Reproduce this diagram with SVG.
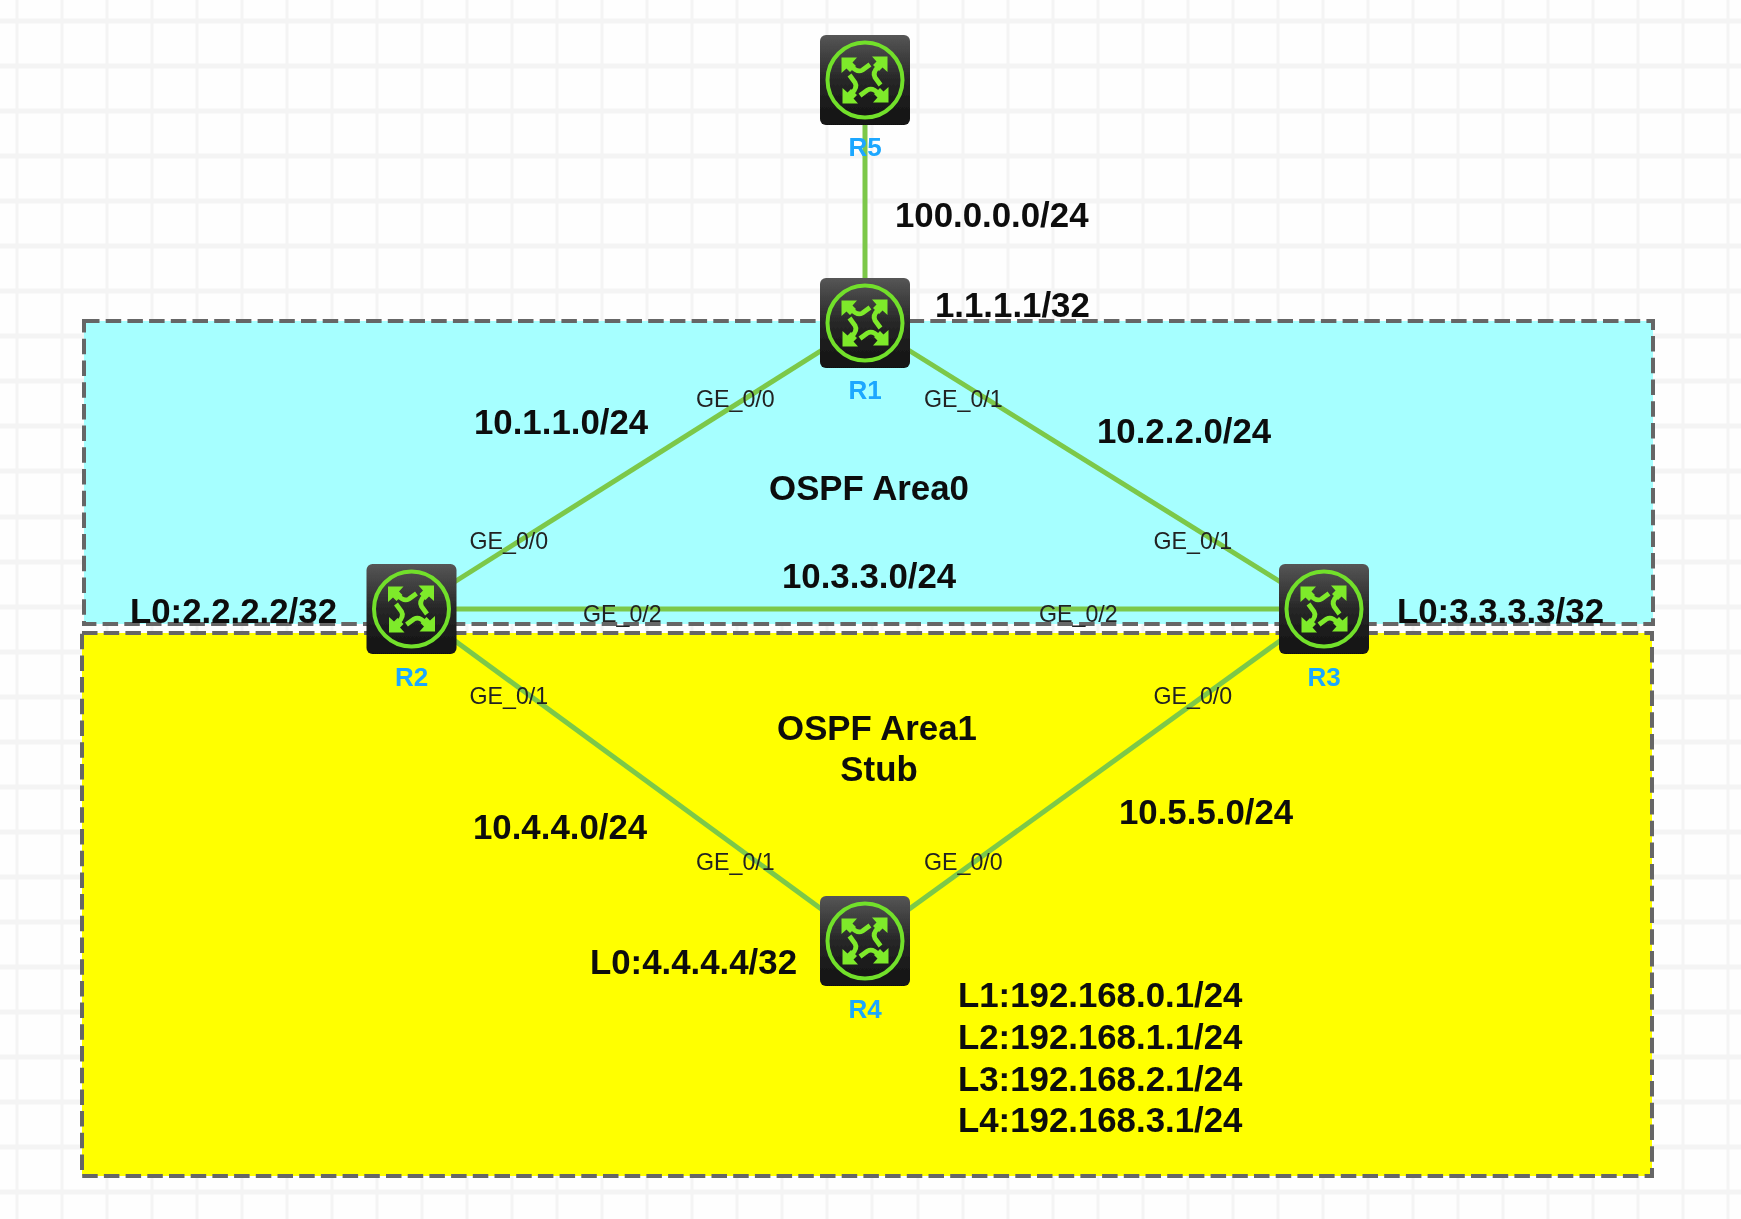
<svg xmlns="http://www.w3.org/2000/svg" width="1741" height="1219" viewBox="0 0 1741 1219">
<style>
.gv line{stroke:#f4f4f4;stroke-width:3}
.gh line{stroke:#f4f4f4;stroke-width:5}
.area{stroke:#666;stroke-width:4;stroke-dasharray:15.5 6.2}
.link{stroke:#7cc84a;stroke-width:5;fill:none}
.soft{filter:url(#soft)}
text{font-family:"Liberation Sans",Arial,sans-serif}
.b{font-size:34.8px;font-weight:bold;fill:#0a0a0a}
.c{text-anchor:middle}
.ge{font-size:23.2px;fill:#222}
.name{font-size:26px;font-weight:bold;fill:#1aa7ff;text-anchor:middle}
</style>
<defs>
<filter id="soft" x="0" y="0" width="1741" height="1219" filterUnits="userSpaceOnUse"><feGaussianBlur stdDeviation="0.5"/></filter>
<linearGradient id="bg" x1="0" y1="0" x2="0" y2="1"><stop offset="0" stop-color="#565656"/><stop offset="0.5" stop-color="#272727"/><stop offset="1" stop-color="#111"/></linearGradient>
<g id="q"><path d="M-23.500-22.500H-8L-12.500-17.500-9-14-15-8-18.500-11.500-23.500-7Z" fill="#7eea2c"/><path d="M-14-14C-10-9.500-6-8-2.500-10L5-15.500" fill="none" stroke="#7eea2c" stroke-width="4.800"/></g>
<g id="router">
<rect x="-45" y="-45" width="90" height="90" rx="6" fill="url(#bg)"/>
<circle r="37.500" fill="none" stroke="#72e02c" stroke-width="4"/>
<use href="#q"/><use href="#q" transform="rotate(90)"/><use href="#q" transform="rotate(180)"/><use href="#q" transform="rotate(270)"/>
</g>
</defs>
<rect width="1741" height="1219" fill="#fefefe"/>
<g class="gv">
<line x1="17" y1="0" x2="17" y2="1219"/><line x1="62" y1="0" x2="62" y2="1219"/><line x1="107" y1="0" x2="107" y2="1219"/><line x1="152" y1="0" x2="152" y2="1219"/><line x1="197" y1="0" x2="197" y2="1219"/><line x1="242" y1="0" x2="242" y2="1219"/><line x1="287" y1="0" x2="287" y2="1219"/><line x1="332" y1="0" x2="332" y2="1219"/><line x1="377" y1="0" x2="377" y2="1219"/><line x1="422" y1="0" x2="422" y2="1219"/><line x1="467" y1="0" x2="467" y2="1219"/><line x1="512" y1="0" x2="512" y2="1219"/><line x1="557" y1="0" x2="557" y2="1219"/><line x1="602" y1="0" x2="602" y2="1219"/><line x1="647" y1="0" x2="647" y2="1219"/><line x1="692" y1="0" x2="692" y2="1219"/><line x1="737" y1="0" x2="737" y2="1219"/><line x1="782" y1="0" x2="782" y2="1219"/><line x1="827" y1="0" x2="827" y2="1219"/><line x1="872" y1="0" x2="872" y2="1219"/><line x1="918" y1="0" x2="918" y2="1219"/><line x1="963" y1="0" x2="963" y2="1219"/><line x1="1008" y1="0" x2="1008" y2="1219"/><line x1="1053" y1="0" x2="1053" y2="1219"/><line x1="1098" y1="0" x2="1098" y2="1219"/><line x1="1143" y1="0" x2="1143" y2="1219"/><line x1="1188" y1="0" x2="1188" y2="1219"/><line x1="1233" y1="0" x2="1233" y2="1219"/><line x1="1278" y1="0" x2="1278" y2="1219"/><line x1="1323" y1="0" x2="1323" y2="1219"/><line x1="1368" y1="0" x2="1368" y2="1219"/><line x1="1413" y1="0" x2="1413" y2="1219"/><line x1="1458" y1="0" x2="1458" y2="1219"/><line x1="1503" y1="0" x2="1503" y2="1219"/><line x1="1548" y1="0" x2="1548" y2="1219"/><line x1="1593" y1="0" x2="1593" y2="1219"/><line x1="1638" y1="0" x2="1638" y2="1219"/><line x1="1683" y1="0" x2="1683" y2="1219"/><line x1="1728" y1="0" x2="1728" y2="1219"/>
</g>
<g class="gh">
<line x1="0" y1="21" x2="1741" y2="21"/><line x1="0" y1="66" x2="1741" y2="66"/><line x1="0" y1="111" x2="1741" y2="111"/><line x1="0" y1="156" x2="1741" y2="156"/><line x1="0" y1="201" x2="1741" y2="201"/><line x1="0" y1="246" x2="1741" y2="246"/><line x1="0" y1="291" x2="1741" y2="291"/><line x1="0" y1="336" x2="1741" y2="336"/><line x1="0" y1="381" x2="1741" y2="381"/><line x1="0" y1="426" x2="1741" y2="426"/><line x1="0" y1="471" x2="1741" y2="471"/><line x1="0" y1="517" x2="1741" y2="517"/><line x1="0" y1="562" x2="1741" y2="562"/><line x1="0" y1="607" x2="1741" y2="607"/><line x1="0" y1="652" x2="1741" y2="652"/><line x1="0" y1="697" x2="1741" y2="697"/><line x1="0" y1="742" x2="1741" y2="742"/><line x1="0" y1="787" x2="1741" y2="787"/><line x1="0" y1="832" x2="1741" y2="832"/><line x1="0" y1="877" x2="1741" y2="877"/><line x1="0" y1="922" x2="1741" y2="922"/><line x1="0" y1="967" x2="1741" y2="967"/><line x1="0" y1="1012" x2="1741" y2="1012"/><line x1="0" y1="1057" x2="1741" y2="1057"/><line x1="0" y1="1102" x2="1741" y2="1102"/><line x1="0" y1="1147" x2="1741" y2="1147"/><line x1="0" y1="1192" x2="1741" y2="1192"/>
</g>
<g id="areas" class="soft">
<rect id="area0" class="area" x="84" y="321" width="1569" height="303" fill="#a6ffff"/>
<rect id="area1" class="area" x="82" y="633" width="1570" height="543" fill="#ffff00"/>
</g>
<g id="connectors" class="soft">
<line class="link" x1="865" y1="80" x2="865" y2="323"/>
<line class="link" x1="865" y1="323" x2="411.5" y2="609"/>
<line class="link" x1="865" y1="323" x2="1324" y2="609"/>
<line class="link" x1="411.5" y1="609" x2="1324" y2="609"/>
<line class="link" x1="411.5" y1="609" x2="865" y2="941"/>
<line class="link" x1="1324" y1="609" x2="865" y2="941"/>
</g>
<g id="R5" class="soft"><use href="#router" x="865" y="80"/><text class="name" x="865" y="156">R5</text></g>
<g id="R1" class="soft"><use href="#router" x="865" y="323"/><text class="name" x="865" y="399">R1</text></g>
<g id="R2" class="soft"><use href="#router" x="411.5" y="609"/><text class="name" x="411.5" y="686">R2</text></g>
<g id="R3" class="soft"><use href="#router" x="1324" y="609"/><text class="name" x="1324" y="686">R3</text></g>
<g id="R4" class="soft"><use href="#router" x="865" y="941"/><text class="name" x="865" y="1018">R4</text></g>
<g id="labels" class="soft">
<text class="b" x="895" y="227">100.0.0.0/24</text>
<text class="b" x="935" y="317">1.1.1.1/32</text>
<text class="b" x="474" y="434">10.1.1.0/24</text>
<text class="b" x="1097" y="443">10.2.2.0/24</text>
<text class="b c" x="869" y="500">OSPF Area0</text>
<text class="b" x="782" y="588">10.3.3.0/24</text>
<text class="b" x="130" y="623">L0:2.2.2.2/32</text>
<text class="b" x="1397" y="623">L0:3.3.3.3/32</text>
<text class="b c" x="877" y="740">OSPF Area1</text>
<text class="b c" x="879" y="781">Stub</text>
<text class="b" x="473" y="839">10.4.4.0/24</text>
<text class="b" x="1119" y="824">10.5.5.0/24</text>
<text class="b" x="590" y="974">L0:4.4.4.4/32</text>
<text class="b" x="958" y="1007">L1:192.168.0.1/24</text>
<text class="b" x="958" y="1049">L2:192.168.1.1/24</text>
<text class="b" x="958" y="1091">L3:192.168.2.1/24</text>
<text class="b" x="958" y="1132">L4:192.168.3.1/24</text>
<text class="ge" x="696" y="407">GE_0/0</text>
<text class="ge" x="924" y="407">GE_0/1</text>
<text class="ge" x="469.500" y="549">GE_0/0</text>
<text class="ge" x="1153.500" y="549">GE_0/1</text>
<text class="ge" x="583" y="622">GE_0/2</text>
<text class="ge" x="1039" y="622">GE_0/2</text>
<text class="ge" x="469.500" y="704">GE_0/1</text>
<text class="ge" x="1153.500" y="704">GE_0/0</text>
<text class="ge" x="696" y="870">GE_0/1</text>
<text class="ge" x="924" y="870">GE_0/0</text>
</g>
</svg>
